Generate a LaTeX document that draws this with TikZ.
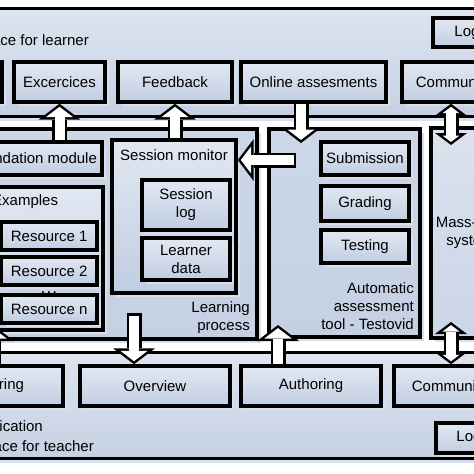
\documentclass[tikz,border=0pt]{standalone}
\usepackage{fontspec}
\setmainfont{Liberation Sans}
\usetikzlibrary{arrows.meta,positioning,calc,shadows}
\definecolor{paneltop}{HTML}{DDE4EF}
\definecolor{panelbot}{HTML}{C5D1E3}
\definecolor{boxtop}{HTML}{E2E8F2}
\definecolor{boxbot}{HTML}{C0CDE1}
\definecolor{masstop}{HTML}{DBE2EE}
\definecolor{massbot}{HTML}{CAD5E6}
\definecolor{shadeblue}{HTML}{D8E0ED}
\tikzset{
    panel/.style={draw=black,line width=3pt,top color=paneltop,bottom color=panelbot,
      drop shadow={shadow xshift=4pt,shadow yshift=-5pt,fill=shadeblue,opacity=1}},
    group/.style={draw=black,line width=3.4pt,top color=panelbot!70!paneltop,bottom color=panelbot,
      drop shadow={shadow xshift=4pt,shadow yshift=-4pt,fill=shadeblue,opacity=1}},
    module/.style={draw=black,line width=3.4pt,top color=boxtop,bottom color=boxbot,
      align=center,inner sep=2pt,
      drop shadow={shadow xshift=4pt,shadow yshift=-4pt,fill=shadeblue,opacity=1}},
    caption/.style={inner sep=0pt,align=right},
    fatarrow/.style={draw=white,line width=10pt,line cap=butt,
      shorten <=0.3pt,shorten >=3.1pt,
      -{Triangle[length=10.4pt,width=27.3pt,line width=0pt]},
      preaction={draw=black,line width=15pt,shorten <=0pt,shorten >=0pt,
        -{Triangle[length=16pt,width=42pt,line width=0pt]}}},
    fatboth/.style={draw=white,line width=10pt,line cap=butt,
      shorten <=3.1pt,shorten >=3.1pt,
      {Triangle[length=6.4pt,width=17pt,line width=0pt]}-{Triangle[length=6.4pt,width=17pt,line width=0pt]},
      preaction={draw=black,line width=15pt,shorten <=0pt,shorten >=0pt,
        {Triangle[length=12pt,width=32pt,line width=0pt]}-{Triangle[length=12pt,width=32pt,line width=0pt]}}},
    capped/.style={shorten <=2.5pt}
}

\begin{document}
\begin{tikzpicture}[x=1pt,y=-1pt,font=\fontsize{15}{18}\selectfont]
  \useasboundingbox (0,0) rectangle (474,474);
  \clip (0,0) rectangle (474,474);

  % the two interfaces
  \node[panel,minimum width=540,minimum height=108] (learner) at (240,62) {};
  \node[caption,anchor=east] (learnerlbl) at (89,40) {Interface for learner};
  \node[panel,minimum width=540,minimum height=106] (teacher) at (240,405) {};
  \node[caption,anchor=east] (teacherlbl) at (43,428) {Application};
  \node[caption,anchor=east] (teacherlbl2) at (94,446) {interface for teacher};

  % middle row
  \node[group,minimum width=297,minimum height=210] (lproc) at (108.5,234) {};
  \node[group,minimum width=151,minimum height=208] (autotool) at (344.5,233) {};
  \node[group,top color=masstop,bottom color=massbot,align=center,
    minimum width=78,minimum height=210] (mass) at (470,233) {Mass-mail\\system};

  \node[module,minimum width=181,minimum height=33] (recm) at (11.5,158.5)
    {Recommendation module};
  \node[module,minimum width=163,minimum height=143] (examples) at (21.5,258.5) {};
  \node[caption,anchor=west] (exlbl) at (-8,202) {Examples};
  \node[module,minimum width=95.5,minimum height=28] (res1) at (49.25,236) {Resource 1};
  \node[module,minimum width=95.5,minimum height=28] (res2) at (49.25,271) {Resource 2};
  \node[inner sep=0pt,anchor=base,font=\fontsize{12}{12}\selectfont\bfseries]
    (dots) at (49,293) {.\kern2.5pt.\kern2.5pt.};
  \node[module,minimum width=95.5,minimum height=28] (resn) at (49.25,309) {Resource n};

  \node[module,minimum width=124,minimum height=153] (smon) at (174,216.5) {};
  \node[caption] (smonlbl) at (174,155) {Session monitor};
  \node[module,minimum width=88,minimum height=50] (slog) at (186,205) {Session\\log};
  \node[module,minimum width=88,minimum height=42] (ldata) at (186,259) {Learner\\data};
  \node[caption,anchor=east] (lproclbl) at (250,317.5) {Learning\\process};

  \node[module,minimum width=88,minimum height=33] (subm) at (365,158.5) {Submission};
  \node[module,minimum width=88,minimum height=35] (grad) at (365,203.5) {Grading};
  \node[module,minimum width=88,minimum height=33] (test) at (365,246.5) {Testing};
  \node[caption,anchor=east] (autolbl) at (414,306) {Automatic\\assessment\\tool - Testovid};

  % learner row
  \node[module,minimum width=62,minimum height=40] (lcut) at (-29,82) {};
  \node[module,minimum width=91,minimum height=40] (exc) at (59.5,82) {Excercices};
  \node[module,minimum width=114,minimum height=40] (fb) at (175,82) {Feedback};
  \node[module,minimum width=145,minimum height=40] (oa) at (313.5,82) {Online assesments};
  \node[module,minimum width=132,minimum height=40] (commun) at (468,82) {Communication};
  \node[module,minimum width=79.6,minimum height=29] (login) at (472.8,32.5) {Login};

  % teacher row
  \node[module,minimum width=148,minimum height=40] (monit) at (-11,386) {Monitoring};
  \node[module,minimum width=150,minimum height=40] (overview) at (155,386) {Overview};
  \node[module,minimum width=140,minimum height=40] (authoring) at (311,386) {Authoring};
  \node[module,minimum width=140,minimum height=40] (communb) at (464,386) {Communication};
  \node[module,minimum width=77.6,minimum height=30] (loginb) at (474.8,438) {Login};

  % block arrows
  \coordinate (oaend) at (301,143);
  \coordinate (mtop) at (451,145);
  \coordinate (mbot) at (451,322);
  \coordinate (sstart) at (296,160);
  \coordinate (lpout) at (134,313);
  \coordinate (authtip) at (278,325);
  \coordinate (montip) at (-7,325);

  \draw[fatarrow] (exc.south |- recm.north) -- (exc.south);
  \draw[fatarrow] (fb.south |- smon.north) -- (fb.south);
  \draw[fatarrow] (oaend |- oa.south) -- (oaend);
  \draw[fatboth] (mtop |- commun.south) -- (mtop);
  \draw[fatarrow,capped] (sstart) -- (smon.east |- sstart);
  \draw[fatarrow,capped] (lpout) -- (lpout |- overview.north);
  \draw[fatarrow] (authtip |- authoring.north) -- (authtip);
  \draw[fatarrow] (montip |- monit.north) -- (montip);
  \draw[fatboth] (mbot) -- (mbot |- communb.north);
\end{tikzpicture}
\end{document}
